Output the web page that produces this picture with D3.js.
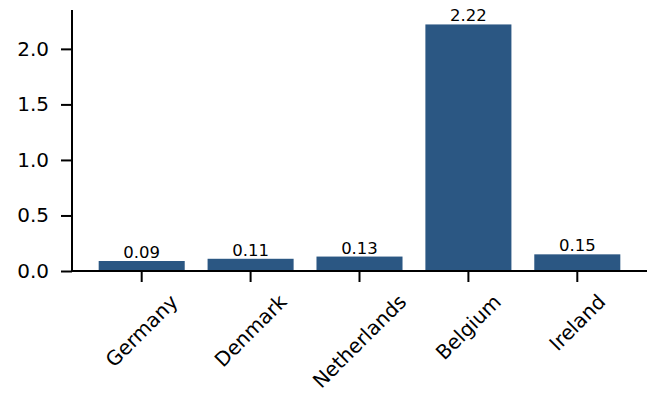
<!DOCTYPE html>
<html>
<head>
<meta charset="utf-8">
<script src="https://cdn.jsdelivr.net/npm/d3@7"></script>
<style>
  html, body { margin: 0; padding: 0; background: #fff; }
  svg { display: block; font-family: "DejaVu Sans", sans-serif; }
</style>
</head>
<body>
<svg id="chart" width="653" height="394"></svg>
<script>
const categories = ["Germany", "Denmark", "Netherlands", "Belgium", "Ireland"];
const values = [0.09, 0.11, 0.13, 2.22, 0.15];
const valueLabels = ["0.09", "0.11", "0.13", "2.22", "0.15"];
const yTicks = [0.0, 0.5, 1.0, 1.5, 2.0];
const yTickLabels = ["0.0", "0.5", "1.0", "1.5", "2.0"];

(function () {
const svg = d3.select("#chart");
const mLeft = 72, mRight = 647, mTop = 10, mBottom = 271;
const barColor = "#2b5783";

const x = d3.scaleBand().domain(categories).range([mLeft, mRight])
  .paddingInner(0.21).paddingOuter(0.245);
const y = d3.scaleLinear().domain([0, 2.35]).range([mBottom, mTop]);

// bars
svg.append("g").selectAll("rect").data(categories).join("rect")
  .attr("x", d => x(d))
  .attr("width", x.bandwidth())
  .attr("y", (d, i) => y(values[i]))
  .attr("height", (d, i) => y(0) - y(values[i]))
  .attr("fill", barColor);

// value labels
svg.append("g").selectAll("text").data(categories).join("text")
  .attr("x", d => x(d) + x.bandwidth() / 2)
  .attr("y", (d, i) => y(values[i]) - 3)
  .attr("text-anchor", "middle")
  .attr("font-size", "16.5px")
  .attr("fill", "#000")
  .text((d, i) => valueLabels[i]);

// y axis
const yAxis = d3.axisLeft(y).tickValues(yTicks)
  .tickFormat((d, i) => yTickLabels[i]).tickSize(11).tickPadding(12);
const gy = svg.append("g").attr("transform", `translate(${mLeft},0)`).call(yAxis);
gy.select(".domain").remove();
gy.selectAll(".tick line").attr("stroke", "#000").attr("stroke-width", 2);
gy.selectAll(".tick text").attr("font-size", "20px").attr("font-family", "DejaVu Sans").attr("fill", "#000");
svg.append("line").attr("x1", mLeft).attr("x2", mLeft).attr("y1", mTop).attr("y2", mBottom + 1)
  .attr("stroke", "#000").attr("stroke-width", 2);

// x axis
const xAxis = d3.axisBottom(x).tickSize(11).tickFormat("");
const gx = svg.append("g").attr("transform", `translate(0,${mBottom})`).call(xAxis);
gx.select(".domain").remove();
gx.selectAll(".tick line").attr("stroke", "#000").attr("stroke-width", 2);
svg.append("line").attr("x1", mLeft - 1).attr("x2", mRight).attr("y1", mBottom).attr("y2", mBottom)
  .attr("stroke", "#000").attr("stroke-width", 2);

// rotated category labels (centered rotated bbox under tick)
const fs = 20;
const labelTop = mBottom + 11 + 8;
const lg = svg.append("g");
categories.forEach(c => {
  const t = lg.append("text")
    .attr("text-anchor", "middle")
    .attr("font-size", fs + "px")
    .attr("fill", "#000")
    .attr("y", 0.346 * fs)
    .text(c);
  const w = t.node().getComputedTextLength();
  const h = fs * 1.164;
  const H = (w + h) * Math.SQRT1_2;
  const cx = x(c) + x.bandwidth() / 2;
  const cy = labelTop + H / 2;
  t.attr("transform", `translate(${cx},${cy}) rotate(-45)`);
});
})();
</script>
</body>
</html>
